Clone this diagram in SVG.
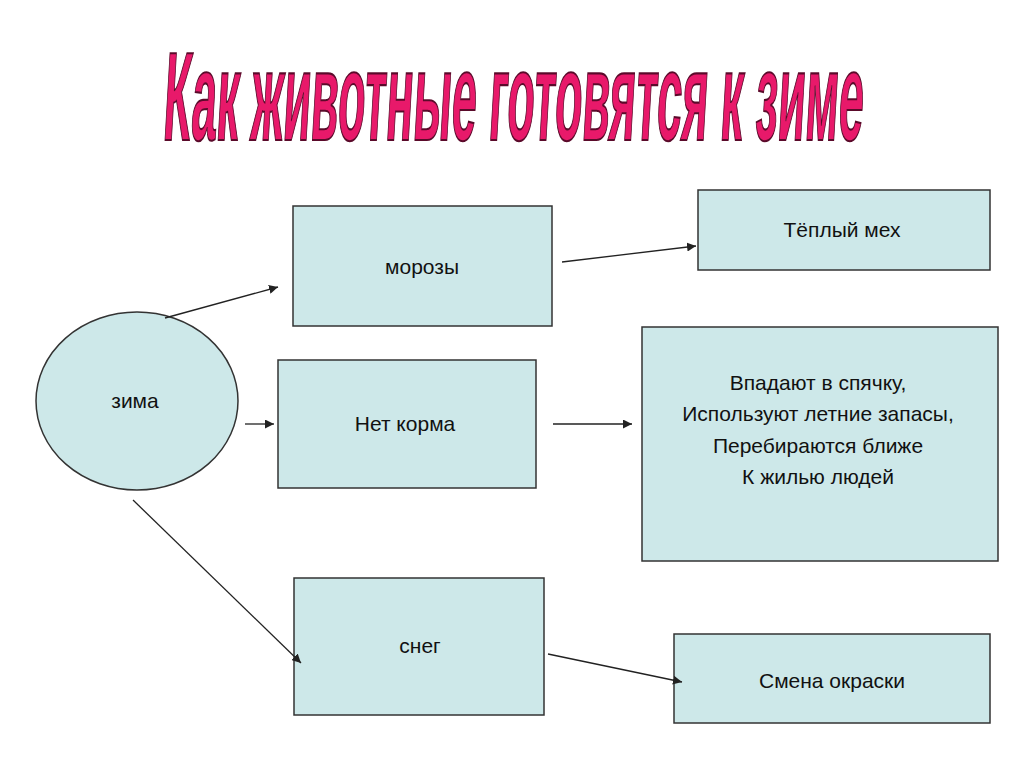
<svg xmlns="http://www.w3.org/2000/svg" width="1024" height="767" viewBox="0 0 1024 767">
<defs>
<style>
.b{fill:#cde8e9;stroke:#333;stroke-width:1.5}
.t{font-family:"Liberation Sans",Arial,sans-serif;font-size:21px;fill:#111;text-anchor:middle}
.c line{stroke:#222;stroke-width:1.3;marker-end:url(#a)}
</style>
<marker id="a" viewBox="0 0 10 10" refX="10" refY="5" markerWidth="9" markerHeight="9" orient="auto" markerUnits="userSpaceOnUse"><path d="M0,0L10,5L0,10z" fill="#222"/></marker>
</defs>
<rect width="1024" height="767" fill="#fff"/>
<g id="title"><text transform="translate(512,140) matrix(1,0,-0.12,2.1,0,0)" x="0" y="0" textLength="700" lengthAdjust="spacingAndGlyphs" style="font-family:'Liberation Sans Narrow','Liberation Sans',sans-serif;font-weight:bold;font-size:60px;fill:#e8196a;stroke:#5a0a2a;stroke-width:1;text-anchor:middle">Как животные готовятся к зиме</text></g>
<g id="zima"><ellipse class="b" cx="137" cy="401" rx="101" ry="89"/><text class="t" x="135" y="408">зима</text></g>
<g id="morozy"><rect class="b" x="293" y="206" width="259" height="120"/><text class="t" x="422" y="274">морозы</text></g>
<g id="korm"><rect class="b" x="278" y="360" width="258" height="128"/><text class="t" x="405" y="431">Нет  корма</text></g>
<g id="sneg"><rect class="b" x="294" y="578" width="250" height="137"/><text class="t" x="420" y="653">снег</text></g>
<g id="meh"><rect class="b" x="698" y="190" width="292" height="80"/><text class="t" x="842" y="237">Тёплый мех</text></g>
<g id="spyachka"><rect class="b" x="642" y="327" width="356" height="234"/>
<text class="t" x="818" y="390">Впадают в спячку,</text>
<text class="t" x="818" y="421">Используют летние запасы,</text>
<text class="t" x="818" y="453">Перебираются ближе</text>
<text class="t" x="818" y="484">К жилью  людей</text></g>
<g id="okraska"><rect class="b" x="674" y="634" width="316" height="89"/><text class="t" x="832" y="688">Смена окраски</text></g>
<g class="c">
<line x1="165" y1="318" x2="278" y2="287"/>
<line x1="245" y1="424" x2="274" y2="424"/>
<line x1="133" y1="500" x2="301" y2="663"/>
<line x1="562" y1="262" x2="696" y2="246"/>
<line x1="553" y1="424" x2="632" y2="424"/>
<line x1="548" y1="654" x2="682" y2="682"/>
</g>
</svg>
